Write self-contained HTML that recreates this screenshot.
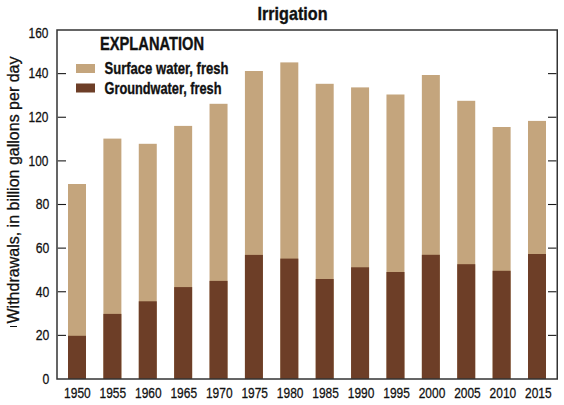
<!DOCTYPE html>
<html><head><meta charset="utf-8"><style>
html,body{margin:0;padding:0;background:#fff;}
body{width:564px;height:405px;overflow:hidden;}
svg{display:block;}
text{font-family:"Liberation Sans",sans-serif;fill:#111;}
.b{stroke:#111;stroke-width:0.35;}
.r{stroke:#111;stroke-width:0.3;}
</style></head><body>
<svg width="564" height="405" viewBox="0 0 564 405">
<rect width="564" height="405" fill="#fff"/>
<rect x="68.00" y="184" width="18.0" height="195.00" fill="#c4a57d"/>
<rect x="68.00" y="335.8" width="18.0" height="43.20" fill="#6d3e27"/>
<rect x="103.38" y="138.6" width="18.0" height="240.40" fill="#c4a57d"/>
<rect x="103.38" y="313.9" width="18.0" height="65.10" fill="#6d3e27"/>
<rect x="138.77" y="143.8" width="18.0" height="235.20" fill="#c4a57d"/>
<rect x="138.77" y="301.3" width="18.0" height="77.70" fill="#6d3e27"/>
<rect x="174.15" y="125.9" width="18.0" height="253.10" fill="#c4a57d"/>
<rect x="174.15" y="287.1" width="18.0" height="91.90" fill="#6d3e27"/>
<rect x="209.54" y="103.8" width="18.0" height="275.20" fill="#c4a57d"/>
<rect x="209.54" y="280.9" width="18.0" height="98.10" fill="#6d3e27"/>
<rect x="244.92" y="71" width="18.0" height="308.00" fill="#c4a57d"/>
<rect x="244.92" y="254.9" width="18.0" height="124.10" fill="#6d3e27"/>
<rect x="280.31" y="62.4" width="18.0" height="316.60" fill="#c4a57d"/>
<rect x="280.31" y="258.6" width="18.0" height="120.40" fill="#6d3e27"/>
<rect x="315.69" y="83.8" width="18.0" height="295.20" fill="#c4a57d"/>
<rect x="315.69" y="279" width="18.0" height="100.00" fill="#6d3e27"/>
<rect x="351.08" y="87.4" width="18.0" height="291.60" fill="#c4a57d"/>
<rect x="351.08" y="267.3" width="18.0" height="111.70" fill="#6d3e27"/>
<rect x="386.46" y="94.5" width="18.0" height="284.50" fill="#c4a57d"/>
<rect x="386.46" y="272" width="18.0" height="107.00" fill="#6d3e27"/>
<rect x="421.85" y="75" width="18.0" height="304.00" fill="#c4a57d"/>
<rect x="421.85" y="254.8" width="18.0" height="124.20" fill="#6d3e27"/>
<rect x="457.23" y="100.8" width="18.0" height="278.20" fill="#c4a57d"/>
<rect x="457.23" y="264.2" width="18.0" height="114.80" fill="#6d3e27"/>
<rect x="492.62" y="127" width="18.0" height="252.00" fill="#c4a57d"/>
<rect x="492.62" y="270.8" width="18.0" height="108.20" fill="#6d3e27"/>
<rect x="528.00" y="120.9" width="18.0" height="258.10" fill="#c4a57d"/>
<rect x="528.00" y="254.0" width="18.0" height="125.00" fill="#6d3e27"/>
<g stroke="#1a1a1a" stroke-width="1.1">
<line x1="57.75" y1="335.38" x2="66" y2="335.38"/>
<line x1="548" y1="335.38" x2="556.5" y2="335.38"/>
<line x1="57.75" y1="291.75" x2="66" y2="291.75"/>
<line x1="548" y1="291.75" x2="556.5" y2="291.75"/>
<line x1="57.75" y1="248.12" x2="66" y2="248.12"/>
<line x1="548" y1="248.12" x2="556.5" y2="248.12"/>
<line x1="57.75" y1="204.50" x2="66" y2="204.50"/>
<line x1="548" y1="204.50" x2="556.5" y2="204.50"/>
<line x1="57.75" y1="160.88" x2="66" y2="160.88"/>
<line x1="548" y1="160.88" x2="556.5" y2="160.88"/>
<line x1="57.75" y1="117.25" x2="66" y2="117.25"/>
<line x1="548" y1="117.25" x2="556.5" y2="117.25"/>
<line x1="57.75" y1="73.62" x2="66" y2="73.62"/>
<line x1="548" y1="73.62" x2="556.5" y2="73.62"/>
</g>
<rect x="57" y="30" width="500.25" height="349" fill="none" stroke="#333" stroke-width="1.5"/>
<text class="b" x="292.5" y="19.5" text-anchor="middle" font-weight="bold" font-size="17.8" textLength="70" lengthAdjust="spacingAndGlyphs">Irrigation</text>
<text class="b" x="100" y="50" font-weight="bold" font-size="17.8" textLength="104" lengthAdjust="spacingAndGlyphs">EXPLANATION</text>
<rect x="76" y="64" width="19" height="9" fill="#c4a57d"/>
<rect x="76" y="83.5" width="19" height="9" fill="#6d3e27"/>
<text class="b" x="104.5" y="74" font-weight="bold" font-size="16.1" textLength="124" lengthAdjust="spacingAndGlyphs">Surface water, fresh</text>
<text class="b" x="104.5" y="94" font-weight="bold" font-size="16.1" textLength="117" lengthAdjust="spacingAndGlyphs">Groundwater, fresh</text>
<g font-size="15.4" stroke="#111" stroke-width="0.3">
<text x="49.2" y="383.80" text-anchor="end" textLength="6.8" lengthAdjust="spacingAndGlyphs">0</text>
<text x="49.3" y="340.18" text-anchor="end" textLength="13.6" lengthAdjust="spacingAndGlyphs">20</text>
<text x="49.3" y="296.55" text-anchor="end" textLength="13.6" lengthAdjust="spacingAndGlyphs">40</text>
<text x="49.3" y="252.93" text-anchor="end" textLength="13.6" lengthAdjust="spacingAndGlyphs">60</text>
<text x="49.3" y="209.30" text-anchor="end" textLength="13.6" lengthAdjust="spacingAndGlyphs">80</text>
<text x="48.4" y="165.68" text-anchor="end" textLength="19.8" lengthAdjust="spacingAndGlyphs">100</text>
<text x="48.4" y="122.05" text-anchor="end" textLength="19.8" lengthAdjust="spacingAndGlyphs">120</text>
<text x="48.4" y="78.42" text-anchor="end" textLength="19.8" lengthAdjust="spacingAndGlyphs">140</text>
<text x="48.4" y="37.80" text-anchor="end" textLength="19.8" lengthAdjust="spacingAndGlyphs">160</text>
<text x="77.40" y="397.8" text-anchor="middle" textLength="26.6" lengthAdjust="spacingAndGlyphs">1950</text>
<text x="112.86" y="397.8" text-anchor="middle" textLength="26.6" lengthAdjust="spacingAndGlyphs">1955</text>
<text x="148.32" y="397.8" text-anchor="middle" textLength="26.6" lengthAdjust="spacingAndGlyphs">1960</text>
<text x="183.78" y="397.8" text-anchor="middle" textLength="26.6" lengthAdjust="spacingAndGlyphs">1965</text>
<text x="219.24" y="397.8" text-anchor="middle" textLength="26.6" lengthAdjust="spacingAndGlyphs">1970</text>
<text x="254.70" y="397.8" text-anchor="middle" textLength="26.6" lengthAdjust="spacingAndGlyphs">1975</text>
<text x="290.16" y="397.8" text-anchor="middle" textLength="26.6" lengthAdjust="spacingAndGlyphs">1980</text>
<text x="325.62" y="397.8" text-anchor="middle" textLength="26.6" lengthAdjust="spacingAndGlyphs">1985</text>
<text x="361.08" y="397.8" text-anchor="middle" textLength="26.6" lengthAdjust="spacingAndGlyphs">1990</text>
<text x="396.54" y="397.8" text-anchor="middle" textLength="26.6" lengthAdjust="spacingAndGlyphs">1995</text>
<text x="432.00" y="397.8" text-anchor="middle" textLength="26.6" lengthAdjust="spacingAndGlyphs">2000</text>
<text x="467.46" y="397.8" text-anchor="middle" textLength="26.6" lengthAdjust="spacingAndGlyphs">2005</text>
<text x="502.92" y="397.8" text-anchor="middle" textLength="26.6" lengthAdjust="spacingAndGlyphs">2010</text>
<text x="538.38" y="397.8" text-anchor="middle" textLength="26.6" lengthAdjust="spacingAndGlyphs">2015</text>
</g>
<text class="r" transform="translate(18.8,190) rotate(-90)" x="0" y="0" text-anchor="middle" font-size="17" textLength="267" lengthAdjust="spacingAndGlyphs">Withdrawals, in billion gallons per day</text>
<line x1="10" y1="326.5" x2="17" y2="326.5" stroke="#111" stroke-width="1"/>
</svg>
</body></html>
